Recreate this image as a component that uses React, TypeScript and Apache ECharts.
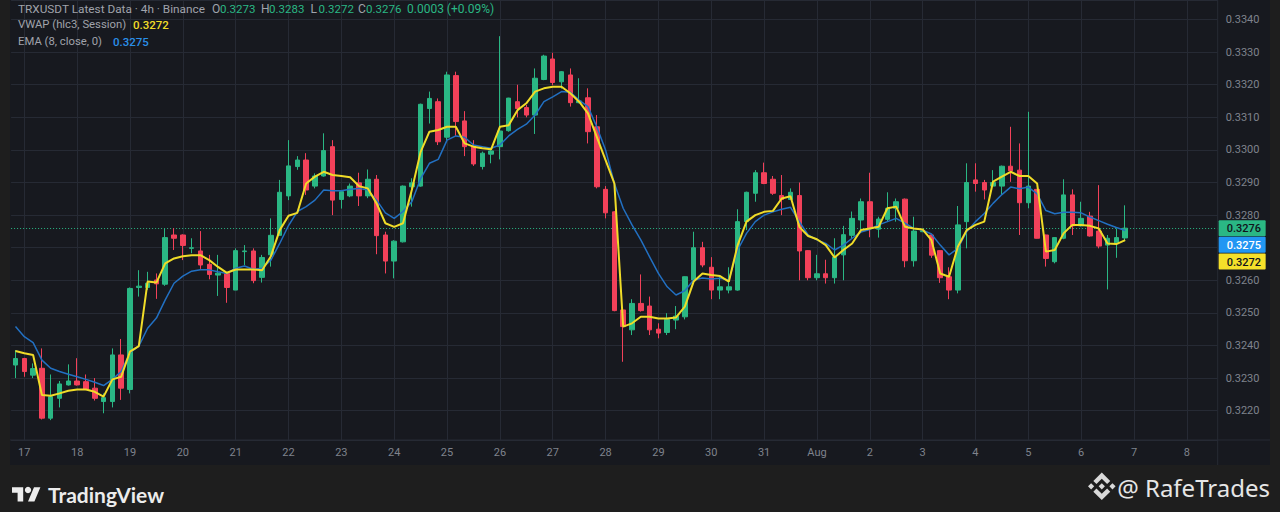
import React, { useEffect, useRef } from 'react';
import * as echarts from 'echarts';

// ---------- data ----------
const firstBarLabel = '16 20:00';
const dayTicks = ['17', '18', '19', '20', '21', '22', '23', '24', '25', '26', '27', '28', '29', '30', '31', 'Aug', '2', '3', '4', '5', '6', '7', '8'];
const hourTicks = ['00:00', '04:00', '08:00', '12:00', '16:00', '20:00'];

const opens = [
  0.32340, 0.32360, 0.32309, 0.32330, 0.32177, 0.32238, 0.32279, 0.32291, 0.32289, 0.32269,
  0.32228, 0.32228, 0.32371, 0.32265, 0.32578, 0.32578, 0.32601, 0.32588, 0.32739, 0.32739,
  0.32698, 0.32690, 0.32649, 0.32616, 0.32621, 0.32570, 0.32688, 0.32690, 0.32609, 0.32678,
  0.32738, 0.32859, 0.32949, 0.32969, 0.32889, 0.32920, 0.33010, 0.32848, 0.32859, 0.32899,
  0.32859, 0.32910, 0.32739, 0.32659, 0.32718, 0.32887, 0.32889, 0.33127, 0.33148, 0.33039,
  0.33228, 0.33089, 0.33012, 0.32949, 0.32987, 0.33010, 0.33059, 0.33148, 0.33130, 0.33107,
  0.33216, 0.33279, 0.33209, 0.33230, 0.33145, 0.33160, 0.33071, 0.32879, 0.32810, 0.32509,
  0.32448, 0.32529, 0.32521, 0.32450, 0.32440, 0.32478, 0.32488, 0.32601, 0.32700, 0.32640,
  0.32570, 0.32570, 0.32570, 0.32780, 0.32867, 0.32930, 0.32910, 0.32860, 0.32848, 0.32860,
  0.32691, 0.32608, 0.32620, 0.32608, 0.32678, 0.32738, 0.32785, 0.32841, 0.32757, 0.32787,
  0.32821, 0.32849, 0.32660, 0.32749, 0.32739, 0.32691, 0.32611, 0.32570, 0.32780, 0.32908,
  0.32900, 0.32889, 0.32889, 0.32950, 0.32938, 0.32838, 0.32879, 0.32739, 0.32657, 0.32729,
  0.32862, 0.32767, 0.32797, 0.32751, 0.32708, 0.32715, 0.32730,
];
const closes = [
  0.32360, 0.32320, 0.32329, 0.32177, 0.32243, 0.32282, 0.32291, 0.32279, 0.32266, 0.32238,
  0.32240, 0.32371, 0.32269, 0.32575, 0.32582, 0.32591, 0.32589, 0.32731, 0.32729, 0.32707,
  0.32700, 0.32647, 0.32618, 0.32622, 0.32578, 0.32691, 0.32690, 0.32599, 0.32670, 0.32738,
  0.32870, 0.32951, 0.32969, 0.32877, 0.32920, 0.32998, 0.32846, 0.32872, 0.32889, 0.32859,
  0.32910, 0.32737, 0.32659, 0.32720, 0.32889, 0.32899, 0.33140, 0.33158, 0.33025, 0.33230,
  0.33087, 0.33010, 0.32957, 0.32990, 0.32997, 0.33058, 0.33159, 0.33127, 0.33107, 0.33220,
  0.33288, 0.33207, 0.33240, 0.33145, 0.33150, 0.33056, 0.32887, 0.32807, 0.32507, 0.32458,
  0.32529, 0.32507, 0.32448, 0.32438, 0.32480, 0.32490, 0.32611, 0.32700, 0.32647, 0.32570,
  0.32580, 0.32580, 0.32780, 0.32870, 0.32930, 0.32897, 0.32867, 0.32848, 0.32870, 0.32690,
  0.32608, 0.32620, 0.32608, 0.32671, 0.32740, 0.32790, 0.32841, 0.32759, 0.32788, 0.32821,
  0.32841, 0.32660, 0.32751, 0.32752, 0.32677, 0.32608, 0.32570, 0.32770, 0.32900, 0.32897,
  0.32877, 0.32900, 0.32950, 0.32936, 0.32838, 0.32889, 0.32729, 0.32667, 0.32731, 0.32862,
  0.32767, 0.32790, 0.32736, 0.32705, 0.32729, 0.32731, 0.32760,
];
const highs = [
  0.32386, 0.32362, 0.32345, 0.32391, 0.32311, 0.32291, 0.32342, 0.32361, 0.32311, 0.32300,
  0.32253, 0.32391, 0.32420, 0.32578, 0.32631, 0.32626, 0.32621, 0.32759, 0.32760, 0.32741,
  0.32729, 0.32751, 0.32678, 0.32678, 0.32623, 0.32698, 0.32708, 0.32698, 0.32678, 0.32790,
  0.32908, 0.33030, 0.32981, 0.32990, 0.32928, 0.33051, 0.33030, 0.32874, 0.32897, 0.32930,
  0.32940, 0.32923, 0.32749, 0.32723, 0.32891, 0.32913, 0.33142, 0.33179, 0.33158, 0.33240,
  0.33240, 0.33119, 0.33030, 0.32995, 0.33005, 0.33349, 0.33160, 0.33200, 0.33138, 0.33250,
  0.33292, 0.33298, 0.33242, 0.33250, 0.33220, 0.33189, 0.33107, 0.32889, 0.32812, 0.32511,
  0.32542, 0.32618, 0.32550, 0.32468, 0.32499, 0.32521, 0.32612, 0.32749, 0.32718, 0.32671,
  0.32611, 0.32640, 0.32818, 0.32872, 0.32938, 0.32961, 0.32920, 0.32923, 0.32882, 0.32900,
  0.32693, 0.32678, 0.32663, 0.32729, 0.32767, 0.32811, 0.32851, 0.32930, 0.32795, 0.32870,
  0.32851, 0.32851, 0.32795, 0.32755, 0.32740, 0.32692, 0.32640, 0.32828, 0.32959, 0.32959,
  0.32908, 0.32938, 0.32952, 0.33071, 0.33020, 0.33117, 0.32880, 0.32740, 0.32732, 0.32910,
  0.32879, 0.32841, 0.32810, 0.32892, 0.32739, 0.32759, 0.32830,
];
const lows = [
  0.32300, 0.32304, 0.32300, 0.32173, 0.32171, 0.32210, 0.32277, 0.32277, 0.32263, 0.32231,
  0.32192, 0.32210, 0.32233, 0.32253, 0.32550, 0.32570, 0.32543, 0.32583, 0.32693, 0.32662,
  0.32683, 0.32635, 0.32603, 0.32552, 0.32531, 0.32570, 0.32647, 0.32591, 0.32593, 0.32642,
  0.32736, 0.32846, 0.32939, 0.32862, 0.32882, 0.32918, 0.32800, 0.32820, 0.32855, 0.32828,
  0.32852, 0.32680, 0.32621, 0.32606, 0.32716, 0.32826, 0.32887, 0.33081, 0.33015, 0.33030,
  0.33043, 0.32981, 0.32951, 0.32940, 0.32959, 0.32971, 0.33056, 0.33100, 0.33100, 0.33049,
  0.33214, 0.33199, 0.33188, 0.33133, 0.33143, 0.33020, 0.32882, 0.32790, 0.32505, 0.32350,
  0.32432, 0.32504, 0.32432, 0.32422, 0.32432, 0.32450, 0.32480, 0.32599, 0.32640, 0.32542,
  0.32542, 0.32560, 0.32568, 0.32754, 0.32841, 0.32895, 0.32862, 0.32800, 0.32846, 0.32600,
  0.32600, 0.32600, 0.32590, 0.32590, 0.32600, 0.32729, 0.32754, 0.32732, 0.32731, 0.32780,
  0.32780, 0.32640, 0.32642, 0.32748, 0.32669, 0.32592, 0.32542, 0.32560, 0.32698, 0.32872,
  0.32848, 0.32887, 0.32862, 0.32902, 0.32739, 0.32821, 0.32728, 0.32642, 0.32652, 0.32726,
  0.32739, 0.32765, 0.32734, 0.32698, 0.32572, 0.32669, 0.32720,
];
const ema8 = [
  0.32458, 0.32427, 0.32409, 0.32355, 0.32330, 0.32320, 0.32312, 0.32304, 0.32296, 0.32287,
  0.32277, 0.32296, 0.32320, 0.32378, 0.32398, 0.32453, 0.32484, 0.32540, 0.32591, 0.32613,
  0.32628, 0.32632, 0.32632, 0.32626, 0.32621, 0.32637, 0.32644, 0.32634, 0.32637, 0.32662,
  0.32713, 0.32768, 0.32811, 0.32826, 0.32846, 0.32877, 0.32875, 0.32875, 0.32879, 0.32882,
  0.32877, 0.32846, 0.32807, 0.32790, 0.32811, 0.32841, 0.32912, 0.32959, 0.32971, 0.33030,
  0.33043, 0.33039, 0.33015, 0.33010, 0.33005, 0.33015, 0.33043, 0.33063, 0.33079, 0.33107,
  0.33148, 0.33163, 0.33179, 0.33177, 0.33153, 0.33133, 0.33071, 0.33000, 0.32897, 0.32821,
  0.32770, 0.32724, 0.32672, 0.32621, 0.32580, 0.32555, 0.32568, 0.32601, 0.32607, 0.32604,
  0.32606, 0.32601, 0.32693, 0.32744, 0.32780, 0.32800, 0.32810, 0.32818, 0.32824, 0.32780,
  0.32739, 0.32724, 0.32713, 0.32693, 0.32708, 0.32729, 0.32748, 0.32756, 0.32770, 0.32780,
  0.32790, 0.32775, 0.32759, 0.32754, 0.32742, 0.32708, 0.32678, 0.32698, 0.32749, 0.32780,
  0.32805, 0.32836, 0.32863, 0.32886, 0.32881, 0.32886, 0.32865, 0.32814, 0.32804, 0.32809,
  0.32809, 0.32807, 0.32794, 0.32783, 0.32772, 0.32762, 0.32753,
];
const vwap = [
  0.32383, 0.32376, 0.32371, 0.32248, 0.32246, 0.32253, 0.32261, 0.32265, 0.32265, 0.32258,
  0.32243, 0.32296, 0.32304, 0.32381, 0.32398, 0.32596, 0.32593, 0.32652, 0.32667, 0.32674,
  0.32677, 0.32677, 0.32662, 0.32641, 0.32623, 0.32633, 0.32633, 0.32633, 0.32631, 0.32674,
  0.32754, 0.32798, 0.32807, 0.32897, 0.32918, 0.32933, 0.32923, 0.32920, 0.32916, 0.32889,
  0.32882, 0.32836, 0.32775, 0.32764, 0.32775, 0.32877, 0.32994, 0.33056, 0.33061, 0.33071,
  0.33071, 0.33020, 0.33010, 0.33005, 0.33002, 0.33071, 0.33076, 0.33122, 0.33143, 0.33179,
  0.33189, 0.33194, 0.33194, 0.33174, 0.33148, 0.33112, 0.33040, 0.32969, 0.32897, 0.32458,
  0.32468, 0.32488, 0.32488, 0.32483, 0.32483, 0.32486, 0.32519, 0.32596, 0.32621, 0.32616,
  0.32613, 0.32596, 0.32708, 0.32780, 0.32800, 0.32810, 0.32813, 0.32851, 0.32858, 0.32764,
  0.32736, 0.32726, 0.32708, 0.32670, 0.32693, 0.32713, 0.32754, 0.32759, 0.32764, 0.32821,
  0.32826, 0.32764, 0.32759, 0.32756, 0.32723, 0.32621, 0.32611, 0.32703, 0.32754, 0.32770,
  0.32780, 0.32903, 0.32918, 0.32933, 0.32920, 0.32920, 0.32897, 0.32688, 0.32693, 0.32744,
  0.32770, 0.32770, 0.32767, 0.32759, 0.32713, 0.32711, 0.32723,
];

// ---------- style / layout ----------
const UP = '#2ab784';
const DOWN = '#f2415a';
const EMA_COLOR = '#2270c2';
const VWAP_COLOR = '#f0dc28';
const GRID_COLOR = '#262a34';
const PANEL = '#17191f';
const OUTER = '#1e1e1e';
const AXIS_TEXT = '#7f838d';
const LEGEND_TEXT = '#a0a3ab';

const BAR_STEP = 8.807;
const N_CAT = 137;
const GRID_LEFT = 11.1;
const GRID_W = N_CAT * BAR_STEP;
const GRID_H = 440;
const PANEL_RIGHT = 1270;
const PANEL_BOTTOM = 465;

const TV_PATH = 'M14 22H7V11H0V4h14v18zM28 22h-8l7.5-18h8L28 22z';
const BNB_PATH =
  'M16.624 13.9202l2.7175 2.7154-7.353 7.353-7.353-7.352 2.7175-2.7164 4.6355 4.6595 4.6356-4.6595zm4.6366-4.6366L24 12l-2.7154 2.7164L18.5682 12l2.6924-2.7164zm-9.272.001l2.7163 2.6914-2.7164 2.7174v-.001L9.2721 12l2.7164-2.7154zm-9.2722-.001L5.4088 12l-2.6914 2.6924L0 12l2.7164-2.7164zM11.9885.0115l7.353 7.329-2.7174 2.7154-4.6356-4.6356-4.6355 4.6595-2.7174-2.7154 7.353-7.353z';

echarts.graphic.registerShape('tvLogo', echarts.graphic.extendPath(TV_PATH, {}));
echarts.graphic.registerShape('bnbLogo', echarts.graphic.extendPath(BNB_PATH, {}));

function buildCategories(): string[] {
  const cats: string[] = [firstBarLabel];
  for (const d of dayTicks) for (const h of hourTicks) cats.push(`${d} ${h}`);
  return cats.slice(0, N_CAT);
}

export default function App() {
  const ref = useRef<HTMLDivElement>(null);

  useEffect(() => {
    if (!ref.current) return;
    const chart = echarts.init(ref.current, null, { renderer: 'svg' });
    const categories = buildCategories();
    const candleData = opens.map((o, i) => [o, closes[i], lows[i], highs[i]]);
    const last = closes.length - 1;
    const lastClose = closes[last];

    const dayLines = dayTicks.map((_, d) => ({
      xAxis: categories[1 + d * 6],
      lineStyle: { color: GRID_COLOR, width: 1, type: 'solid' },
    }));

    chart.setOption({
      animation: false,
      backgroundColor: 'transparent',
      textStyle: { fontFamily: 'Roboto, sans-serif' },
      tooltip: { show: false },
      grid: {
        left: GRID_LEFT,
        top: 0,
        width: GRID_W,
        height: GRID_H,
        containLabel: false,
        outerBoundsMode: 'none',
      },
      xAxis: {
        type: 'category',
        data: categories,
        boundaryGap: true,
        axisLine: { show: false },
        axisTick: { show: false },
        splitLine: { show: false },
        axisLabel: {
          interval: (index: number) => index % 6 === 1,
          formatter: (v: string) => v.split(' ')[0],
          color: AXIS_TEXT,
          fontSize: 11,
          margin: 7,
        },
      },
      yAxis: {
        type: 'value',
        position: 'right',
        min: 0.3211,
        max: 0.3346,
        splitNumber: 13,
        minInterval: 0.001,
        maxInterval: 0.001,
        axisLine: { show: false },
        axisTick: { show: false },
        axisLabel: {
          color: AXIS_TEXT,
          fontSize: 11,
          margin: 8,
          showMinLabel: false,
          showMaxLabel: false,
          formatter: (v: number) => v.toFixed(4),
        },
        splitLine: { show: true, lineStyle: { color: GRID_COLOR, width: 1 } },
      },
      series: [
        {
          name: 'guides',
          type: 'line',
          data: closes,
          symbol: 'none',
          silent: true,
          z: 1,
          lineStyle: { opacity: 0 },
          markLine: {
            silent: true,
            z: 1,
            precision: 5,
            animation: false,
            symbol: ['none', 'none'],
            label: { show: false },
            data: [
              ...dayLines,
              { yAxis: lastClose, lineStyle: { color: UP, width: 1, type: [1, 2] } },
            ],
          },
        },
        {
          name: 'TRXUSDT',
          type: 'candlestick',
          data: candleData,
          barWidth: 5,
          z: 3,
          silent: true,
          itemStyle: {
            color: UP,
            color0: DOWN,
            borderColor: UP,
            borderColor0: DOWN,
            borderWidth: 1,
          },
        },
        {
          name: 'EMA',
          type: 'line',
          data: ema8,
          symbol: 'none',
          silent: true,
          z: 4,
          lineStyle: { color: EMA_COLOR, width: 1.5 },
        },
        {
          name: 'VWAP',
          type: 'line',
          data: vwap,
          symbol: 'none',
          silent: true,
          z: 5,
          lineStyle: { color: VWAP_COLOR, width: 2 },
        },
      ],
    });

    const gY = chart.convertToPixel({ yAxisIndex: 0 }, lastClose) as number;
    const boxX = GRID_LEFT + GRID_W + 1;
    const boxW = 47;
    const boxH = 16;
    const priceBoxes = [
      { v: closes[last], bg: UP, fg: '#10141c' },
      { v: ema8[last], bg: '#2196f3', fg: '#ffffff' },
      { v: vwap[last], bg: '#f5e02a', fg: '#10141c' },
    ];
    const chg = closes[last] - closes[last - 1];
    const pct = (chg / closes[last - 1]) * 100;
    const f4 = (v: number) => v.toFixed(4);

    const txt = (x: number, y: number, text: string, fill: string, font = '12px Roboto', extra: any = {}, z = 50) => ({
      type: 'text',
      x,
      y,
      z,
      silent: true,
      style: { text, fill, font, verticalAlign: 'middle', align: 'left', ...extra },
    });

    const graphic: any[] = [
      {
        type: 'rect',
        z: -100,
        silent: true,
        shape: { x: 10, y: 0, width: PANEL_RIGHT - 10, height: PANEL_BOTTOM },
        style: { fill: PANEL },
      },
      {
        type: 'line',
        z: 20,
        silent: true,
        shape: { x1: GRID_LEFT + GRID_W, y1: 0, x2: GRID_LEFT + GRID_W, y2: PANEL_BOTTOM },
        style: { stroke: GRID_COLOR, lineWidth: 1 },
      },
      {
        type: 'line',
        z: 20,
        silent: true,
        shape: { x1: 10, y1: GRID_H, x2: PANEL_RIGHT, y2: GRID_H },
        style: { stroke: GRID_COLOR, lineWidth: 1 },
      },
    ];

    priceBoxes.forEach((b, i) => {
      const top = gY - boxH / 2 + i * (boxH + 0.7);
      graphic.push({
        type: 'rect',
        z: 60,
        silent: true,
        shape: { x: boxX, y: top, width: boxW, height: boxH, r: 1 },
        style: { fill: b.bg },
      });
      graphic.push(txt(boxX + 8, top + boxH / 2 + 0.5, f4(b.v), b.fg, '500 11px Roboto', {}, 70));
    });

    // legend block
    graphic.push(txt(18, 8.5, 'TRXUSDT Latest Data · 4h · Binance', LEGEND_TEXT, '11.8px Roboto'));
    const ohlcLabels = ['O', 'H', 'L', 'C'];
    const ohlcVals = [opens[last], highs[last], lows[last], closes[last]];
    const ohlcX = [212, 261, 310.5, 358];
    ohlcLabels.forEach((l, i) => {
      graphic.push(txt(ohlcX[i], 8.5, l, LEGEND_TEXT, '12px Roboto'));
      graphic.push(txt(ohlcX[i] + 8, 8.5, f4(ohlcVals[i]), UP, '11.5px Roboto'));
    });
    graphic.push(
      txt(407, 8.5, `${f4(chg)} (${pct >= 0 ? '+' : ''}${pct.toFixed(2)}%)`, UP, '12px Roboto')
    );
    graphic.push(txt(18, 24.5, 'VWAP (hlc3, Session)', LEGEND_TEXT, '11.3px Roboto'));
    graphic.push(txt(133, 24.5, f4(vwap[last]), VWAP_COLOR, '500 11.5px Roboto'));
    graphic.push(txt(18, 41.5, 'EMA (8, close, 0)', LEGEND_TEXT, '11.3px Roboto'));
    graphic.push(txt(113, 41.5, f4(ema8[last]), '#2a8fe8', '500 11.5px Roboto'));

    // footer branding
    graphic.push({
      type: 'tvLogo',
      x: 12,
      y: 484,
      scaleX: 0.8,
      scaleY: 0.8,
      z: 50,
      silent: true,
      style: { fill: '#ececec' },
    });
    graphic.push({
      type: 'circle',
      z: 50,
      silent: true,
      shape: { cx: 12 + 20 * 0.8, cy: 484 + 7.5 * 0.8, r: 3.2 },
      style: { fill: '#ececec' },
    });
    graphic.push(txt(48, 494.5, 'TradingView', '#ececec', 'bold 21px Lato'));
    graphic.push({
      type: 'bnbLogo',
      x: 1088,
      y: 472.5,
      scaleX: 1.15,
      scaleY: 1.15,
      z: 50,
      silent: true,
      style: { fill: '#d9d9d9' },
    });
    graphic.push(txt(1270, 487.5, '@ RafeTrades', '#e6e6e6', '24px "Noto Sans"', { align: 'right' }));

    chart.setOption({ graphic });

    return () => chart.dispose();
  }, []);

  return (
    <div
      ref={ref}
      style={{ position: 'absolute', left: 0, top: 0, width: 1280, height: 512, background: OUTER }}
    />
  );
}
